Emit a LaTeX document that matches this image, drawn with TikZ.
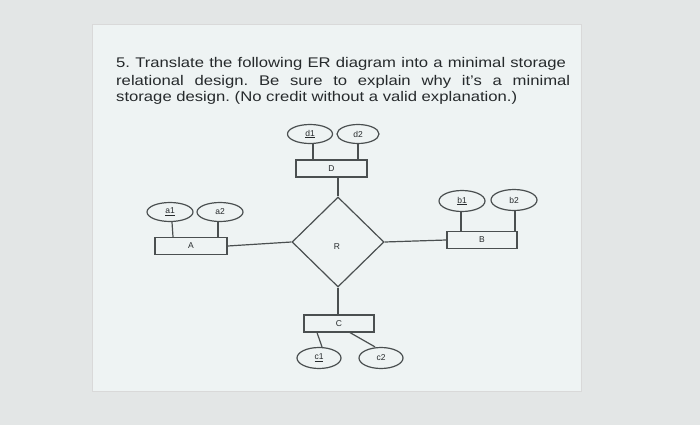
\documentclass[tikz,border=0pt]{standalone}
\usepackage{fontspec}
\setmainfont{Liberation Sans}
\usetikzlibrary{shapes.geometric}
\frenchspacing
\definecolor{outerbg}{HTML}{E3E6E6}
\definecolor{panelbg}{HTML}{EEF3F3}
\definecolor{ink}{HTML}{4A4F50}
\definecolor{txt}{HTML}{262A2C}
\newcommand{\qstretch}[1]{\scalebox{1.19}[1]{#1}}
\tikzset{
  every node/.style={text=txt},
  entity/.style={draw=ink, line width=1.2pt, rectangle, minimum width=71pt, minimum height=17pt, inner sep=0pt, font=\fontsize{8.5}{9}\selectfont},
  attr/.style={draw=ink, line width=1.2pt, ellipse, minimum width=45pt, minimum height=19pt, inner sep=0pt, font=\fontsize{8.5}{9}\selectfont},
  rel/.style={draw=ink, line width=1.2pt, diamond, minimum width=92pt, minimum height=90pt, inner sep=0pt},
  lbl/.style={font=\fontsize{8.5}{9}\selectfont, inner sep=0pt},
  conn/.style={draw=ink, line width=1.2pt},
  qline/.style={anchor=base west, inner sep=0pt, font=\fontsize{14}{17}\selectfont}
}
\begin{document}
\begin{tikzpicture}[x=1pt,y=-1pt]
\useasboundingbox (0,0) rectangle (700,425);
\fill[outerbg] (0,0) rectangle (700,425);
\filldraw[fill=panelbg, draw=black!15] (92,24) rectangle (581,391);
% question text
\node[qline] (l1) at (116,68) {\qstretch{\makebox[378pt][s]{5. Translate the following ER diagram into a minimal storage}}};
\node[qline] (l2) at (116,85) {\qstretch{\makebox[381.5pt][s]{relational design. Be sure to explain why it's a minimal}}};
\node[qline] (l3) at (116,102) {\qstretch{storage design. (No credit without a valid explanation.)}};
% entities
\node[entity] (D) at (331.5,168.5) {D};
\node[entity, minimum width=72pt] (A) at (191,246) {A};
\node[entity, minimum width=70pt] (B) at (482,240) {B};
\node[entity, minimum width=70pt] (C) at (339,323.5) {C};
% relationship
\node[rel] (R) at (338,242) {};
\node[lbl] (Rl) at (337,247) {R};
% attributes
\node[attr] (d1) at (310,134) {\underline{d1}};
\node[attr, minimum width=42pt] (d2) at (358,134) {d2};
\node[attr, minimum width=46pt] (a1) at (170,212) {\underline{a1}};
\node[attr, minimum width=46pt] (a2) at (220,212) {a2};
\node[attr, minimum width=46pt, minimum height=21pt] (b1) at (462,201) {\underline{b1}};
\node[attr, minimum width=46pt, minimum height=21pt] (b2) at (514,200) {b2};
\node[attr, minimum width=44pt, minimum height=21pt] (c1) at (319,358) {\underline{c1}};
\node[attr, minimum width=44pt, minimum height=21pt] (c2) at (381,358) {c2};
% connectors
\draw[conn] (d1.south -| 313,0) -- (D.north -| 313,0);
\draw[conn] (d2.south) -- (D.north -| d2.south);
\draw[conn] (D.south -| 338,0) -- (R.north);
\draw[conn] (a1.south) ++(2,0) -- (A.north -| 173,0);
\draw[conn] (a2.south -| 218,0) -- (A.north -| 218,0);
\draw[conn] (A.east) -- (R.west);
\draw[conn] (R.east) -- (B.west);
\draw[conn] (b1.south -| 461,0) -- (B.north -| 461,0);
\draw[conn] (b2.south -| 515,0) -- (B.north -| 515,0);
\draw[conn] (R.south) -- (C.north -| 338,0);
\draw[conn] (C.south -| 317,0) -- (c1.north -| 322,0);
\draw[conn] (C.south -| 350,0) -- (c2.north -| 375,0);
\end{tikzpicture}
\end{document}
